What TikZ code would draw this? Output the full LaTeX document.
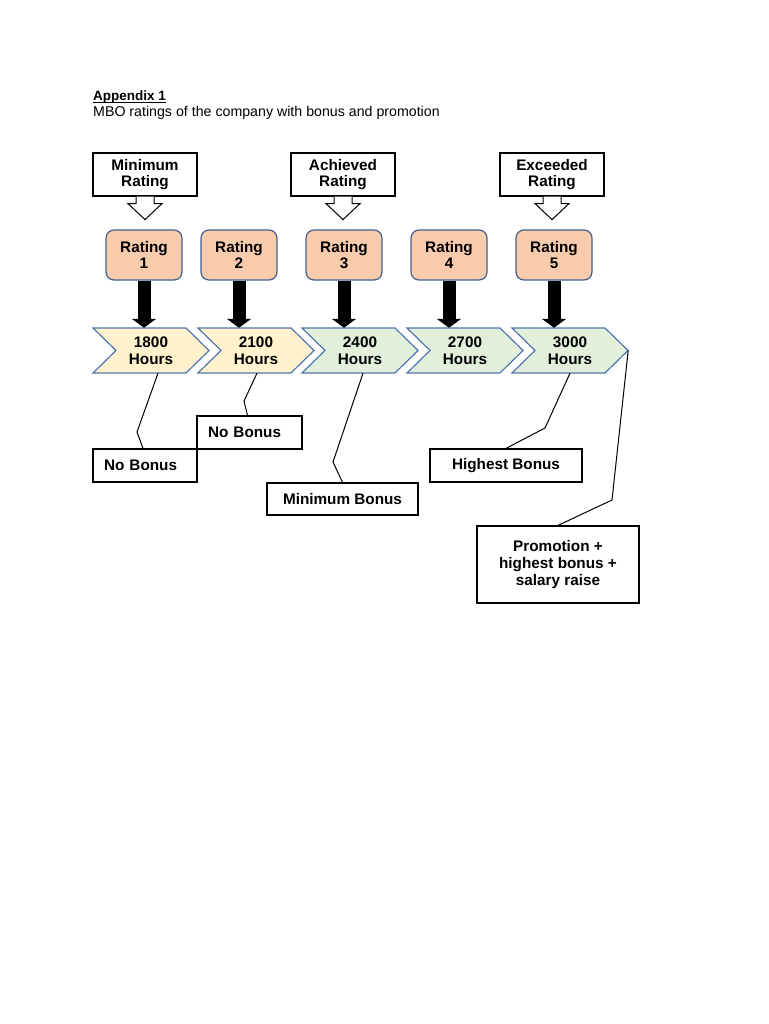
\documentclass[tikz,border=0pt]{standalone}
\usepackage{fontspec}
\setmainfont{Liberation Sans}
\usepackage{xcolor}
\usepackage{tikz}
\usetikzlibrary{arrows.meta}

\definecolor{ratingfill}{HTML}{F8CBAD}
\definecolor{ratingline}{HTML}{42608F}
\definecolor{hourline}{HTML}{5276B0}
\definecolor{hourlow}{HTML}{FFF2CC}
\definecolor{hourhigh}{HTML}{E2EFDA}

\begin{document}
\begin{tikzpicture}[x=1pt,y=-1pt,
  labelfont/.style={font=\bfseries\fontsize{15.3}{16.8}\selectfont},
  levelbox/.style={labelfont, draw, line width=1.2pt, fill=white, align=center,
    inner sep=0pt, minimum width=104pt, minimum height=43pt},
  ratingbox/.style={labelfont, draw=ratingline, line width=1.2pt, fill=ratingfill,
    rounded corners=8pt, align=center, inner sep=0pt, minimum width=76pt, minimum height=50pt},
  hourtext/.style={labelfont, align=center, inner sep=0pt, minimum width=116pt, minimum height=45pt},
  hourchev/.style={draw=hourline, line width=1.2pt},
  bonusbox/.style={labelfont, draw, line width=1.2pt, fill=white, align=center,
    inner sep=0pt, minimum height=33pt},
  openarrow/.style={draw, line width=1pt, fill=white},
  downarrow/.style={line width=13pt, -{Triangle[width=24pt,length=9pt]}},
  link/.style={line width=1pt}]
  \useasboundingbox (0,0) rectangle (768,1024);

  % heading
  \node[anchor=base west, inner sep=0pt, font=\bfseries\fontsize{13.5}{16}\selectfont] (app) at (93,101) {Appendix 1};
  \draw[line width=0.9pt] ([yshift=-1.8pt]app.base west) -- ([yshift=-1.8pt]app.base east);
  \node[anchor=base west, inner sep=0pt, font=\fontsize{14.2}{16}\selectfont] (ttl) at (93,117) {MBO ratings of the company with bonus and promotion};

  % rating levels on top
  \node[levelbox] (mr) at (145,174.5) {Minimum\\Rating};
  \node[levelbox] (ar) at (343,174.5) {Achieved\\Rating};
  \node[levelbox] (er) at (552,174.5) {Exceeded\\Rating};
  \foreach \n in {mr,ar,er}{
    \draw[openarrow] (\n.south) ++(-9,0) -- ++(0,7) -- ++(-8,0) -- ++(17,16) -- ++(17,-16) -- ++(-8,0) -- ++(0,-7);
  }

  % ratings
  \foreach \i/\x in {1/144,2/239,3/344,4/449,5/554}{
    \node[ratingbox] (r\i) at (\x,255) {Rating\\\i};
  }

  % hours chevrons
  \foreach \i/\l/\t/\c in {1/93/1800/hourlow,2/198/2100/hourlow,3/302/2400/hourhigh,4/407/2700/hourhigh,5/512/3000/hourhigh}{
    \filldraw[hourchev, fill=\c] (\l,328) -- ++(93,0) -- ++(23,22.5) -- ++(-23,22.5) -- ++(-93,0) -- ++(23,-22.5) -- cycle;
    \node[hourtext] (h\i) at (\l+58,350.5) {\t\\Hours};
  }

  % thick arrows
  \foreach \i in {1,...,5}{
    \draw[downarrow] (r\i.south) -- (r\i.south |- h\i.north);
  }

  % outcomes
  \node[bonusbox, text width=82pt, align=left, inner xsep=11pt] (nb1) at (145,465.5) {No Bonus};
  \node[bonusbox, text width=83pt, align=left, inner xsep=11pt] (nb2) at (249.5,432.5) {No Bonus};
  \node[bonusbox, minimum width=151pt, minimum height=32pt] (minb) at (342.5,499) {Minimum Bonus};
  \node[bonusbox, minimum width=152pt] (highb) at (506,465.5) {Highest Bonus};
  \node[bonusbox, minimum width=162pt, minimum height=77pt] (promo) at (558,564.5) {Promotion +\\highest bonus +\\salary raise};

  % bent links
  \coordinate (k1) at (137,432);
  \coordinate (k2) at (244,401);
  \coordinate (k3) at (333,462);
  \coordinate (k4) at (545,428);
  \coordinate (k5) at (612,500);
  \draw[link] ([xshift=7pt]h1.south) -- (k1) -- ([xshift=-2pt]nb1.north);
  \draw[link] ([xshift=1pt]h2.south) -- (k2) -- ([xshift=-2pt]nb2.north);
  \draw[link] ([xshift=3pt]h3.south) -- (k3) -- (minb.north);
  \draw[link] (h5.south) -- (k4) -- (highb.north);
  \draw[link] (h5.east) -- (k5) -- (promo.north);

\end{tikzpicture}
\end{document}
